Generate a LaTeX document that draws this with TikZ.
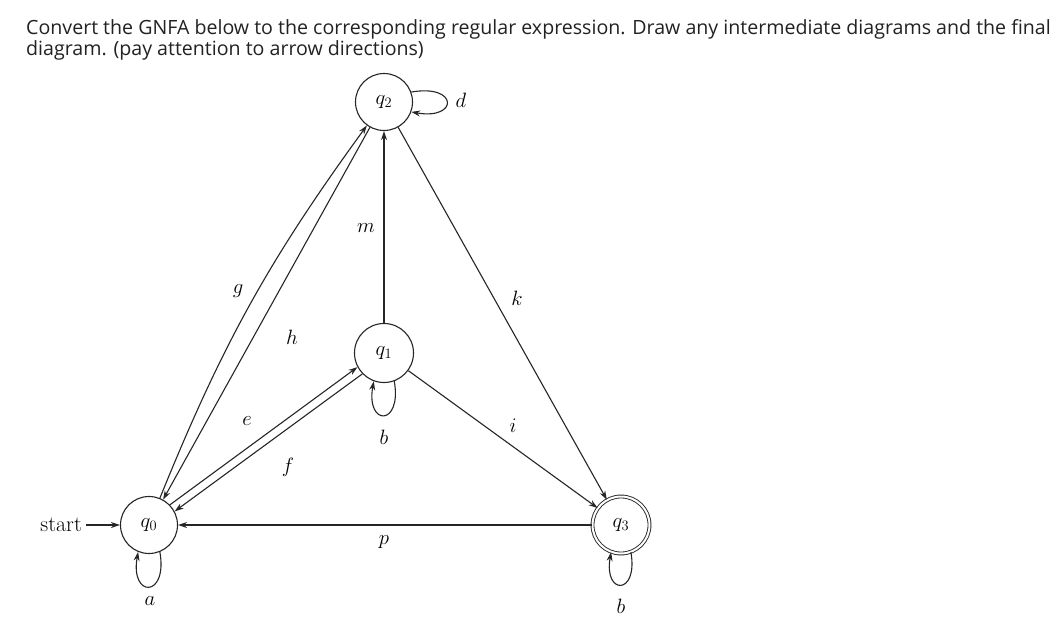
\documentclass[tikz,border=0pt]{standalone}
\usepackage{fontspec}
\newfontfamily\titlefont{Open Sans}
\usetikzlibrary{arrows.meta}
\definecolor{ink}{HTML}{262626}
\definecolor{txt}{HTML}{222222}
\begin{document}
\begin{tikzpicture}[x=1pt,y=1pt,
  lbl/.style={font=\fontsize{22}{26}\selectfont, inner sep=0pt},
  state/.style={circle, draw=ink, line width=1.1pt, minimum size=57pt, inner sep=0pt, font=\fontsize{22}{26}\selectfont},
  accept/.style={state, double, double distance=2pt, line width=0.9pt},
  edge/.style={draw=ink, line width=1.1pt, -{Stealth[length=9pt,width=6pt]}},
  title/.style={anchor=base west, inner sep=0pt, text=txt, font=\titlefont\fontsize{19.6}{23}\selectfont}
]
\useasboundingbox (0,0) rectangle (1063,625);
\fill[white] (0,0) rectangle (1063,625);

% title
\node[title] (t1) at (26,590) {Convert the GNFA below to the corresponding regular expression. Draw any intermediate diagrams and the final};
\node[title] (t2) at (26,569) {diagram. (pay attention to arrow directions)};

% states
\node[state] (q0) at (149,100) {$q_0$};
\node[state, minimum size=59pt] (q1) at (384,272) {$q_1$};
\node[state] (q2) at (384,523) {$q_2$};
\node[accept] (q3) at (621,100) {$q_3$};

\node[lbl, anchor=east, inner sep=4pt] (start) at (86,100) {start};

% edges
\draw[edge] (start) -- (q0);
\draw[edge] (q0) to[bend left=7] (q2);
\draw[edge] (q2) -- (q0);
\draw[edge] (q0.44) -- (q1.208);
\draw[edge] (q1.224) -- (q0.28);
\draw[edge] (q1) -- (q2);
\draw[edge] (q2) -- (q3);
\draw[edge] (q1) -- (q3);
\draw[edge] (q3) -- (q0);

% loops
\draw[edge] (q0.-68) .. controls +(-80:47) and +(-100:47) .. (q0.-112);
\draw[edge] (q1.-70) .. controls +(-80:46) and +(-100:46) .. (q1.-110);
\draw[edge] (q3.-70) .. controls +(-80:44) and +(-100:44) .. (q3.-110);
\draw[edge] (q2.20) .. controls +(10:48) and +(-10:48) .. (q2.-20);

% labels
\node[lbl] (ld) at (461,525) {$d$};
\node[lbl] (lm) at (366,397) {$m$};
\node[lbl] (lg) at (238,334) {$g$};
\node[lbl] (lh) at (292,288) {$h$};
\node[lbl] (lk) at (517,327) {$k$};
\node[lbl] (le) at (247,204) {$e$};
\node[lbl] (lf) at (288,158) {$f$};
\node[lbl] (li) at (513,199) {$i$};
\node[lbl] (lb1) at (384,188) {$b$};
\node[lbl] (lp) at (384,83) {$p$};
\node[lbl] (la) at (150,24) {$a$};
\node[lbl] (lb3) at (621,19) {$b$};
\end{tikzpicture}
\end{document}
